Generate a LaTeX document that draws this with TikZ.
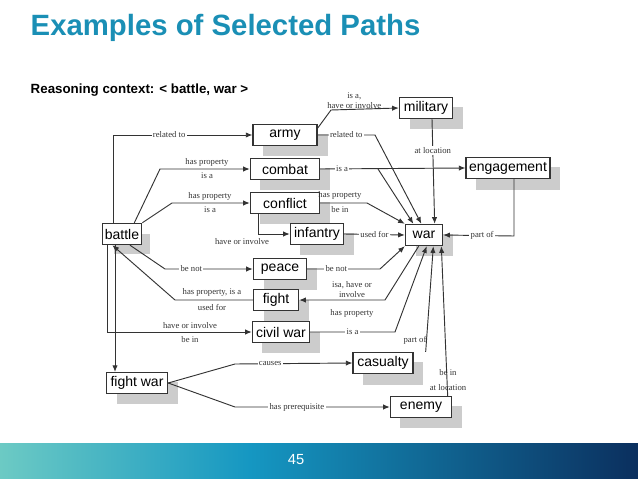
\documentclass[tikz,border=0pt]{standalone}
\usepackage{fontspec}
\setmainfont{Liberation Serif}
\newfontfamily\sansf{Liberation Sans}
\usetikzlibrary{arrows.meta}
\definecolor{ttl}{HTML}{1A8FB5}
\definecolor{ln}{HTML}{333333}
\definecolor{bA}{HTML}{6CCAC4}
\definecolor{bB}{HTML}{1597C2}
\definecolor{bC}{HTML}{0B2F5E}
\begin{document}
\begin{tikzpicture}[x=0.75pt,y=-0.75pt,
  box/.style={draw=ln,line width=0.8pt,fill=white,font=\sansf\fontsize{10.5}{11}\selectfont,inner sep=2pt,minimum height=16pt},
  shd/.style={fill=black!20,draw=none},
  lbl/.style={font=\fontsize{6.5}{7.5}\selectfont,inner sep=1pt,text=ln},
  il/.style={lbl,fill=white},
  e/.style={draw=ln,line width=0.7pt,-{Latex[length=5pt,width=4pt]}},
  p/.style={draw=ln,line width=0.7pt}]
\useasboundingbox (0,0) rectangle (638,478);
\shade[left color=bA,right color=bB] (0,443) rectangle (250,478);
\shade[left color=bB,right color=bC] (250,443) rectangle (639,478);
\node[text=white,font=\sansf\fontsize{11}{12}\selectfont] (pg) at (296,460) {45};
\node[anchor=west,text=ttl,font=\sansf\bfseries\fontsize{22}{24}\selectfont] (title) at (26,28) {Examples of Selected Paths};
\node[anchor=west,font=\sansf\bfseries\fontsize{10}{11}\selectfont] (ctx) at (26,90) {Reasoning context: < battle, war >};
% shadows
\foreach \x/\y/\w/\h in {122/234/36/20,285/135/65/22,285/169/70/22,285/203/70/22,317/234/54/22,424/235/37/22,426/108/53/22,508/168/84/23,280/269/53/22,276/300/45/21,281/332/58/21,383/363/60/23,137/383/61/22,421/407/62/22}
  \fill[shd] (\x-\w/2+10,\y-\h/2+10) rectangle (\x+\w/2+10,\y+\h/2+10);
% nodes
\node[box,minimum width=27pt] (battle) at (122,234) {battle};
\node[box,minimum width=48pt] (army) at (285,135) {army};
\node[box,minimum width=52pt] (combat) at (285,169) {combat};
\node[box,minimum width=52pt] (conflict) at (285,203) {conflict};
\node[box,minimum width=40pt] (infantry) at (317,234) {infantry};
\node[box,minimum width=28pt] (war) at (424,235) {war};
\node[box,minimum width=40pt] (military) at (426,108) {military};
\node[box,minimum width=63pt] (engagement) at (508,168) {engagement};
\node[box,minimum width=40pt] (peace) at (280,269) {peace};
\node[box,minimum width=34pt] (fight) at (276,300) {fight};
\node[box,minimum width=43pt] (civilwar) at (281,332) {civil war};
\node[box,minimum width=45pt] (casualty) at (383,363) {casualty};
\node[box,minimum width=46pt] (fightwar) at (137,383) {fight war};
\node[box,minimum width=46pt] (enemy) at (421,407) {enemy};
% coordinates
\coordinate (c1) at (160,169);
\coordinate (c2) at (172,203);
\coordinate (c3) at (165,269);
\coordinate (c4) at (175,300);
\coordinate (c5) at (380,269);
\coordinate (c6) at (385,300);
\coordinate (c7) at (375,135);
\coordinate (c8) at (378,169);
\coordinate (c9) at (367,203);
\coordinate (c10) at (395,332);
\coordinate (c11) at (331,110);
\coordinate (c12) at (235,364);
\coordinate (c13) at (235,407);
\coordinate (c14) at (514,236);
\coordinate (c15) at (115,372);
\coordinate (c16) at (115,244);
% edges
\draw[e] (battle.north west) ++(12,0) |- node[il,pos=0.7]{related to} (army.west);
\draw[e] ([xshift=-6pt]battle.north east) -- (c1) -- (combat.west);
\node[lbl] (l1) at (207,162) {has property};
\node[lbl] (l1b) at (207,176) {is a};
\draw[e] (battle.north east) -- (c2) -- (conflict.west);
\node[lbl] (l2) at (210,196) {has property};
\node[lbl] (l2b) at (210,210) {is a};
\draw[e] ([xshift=-20pt]conflict.south) |- (infantry.west);
\node[lbl] (l3) at (242,242) {have or involve};
\draw[e] ([yshift=5pt]army.east) -- (c11) -- node[lbl,above,pos=0.5,align=center,xshift=-8pt,yshift=-1pt]{is a,\\have or involve} (military.west);
\draw[e] (army.east) -- node[il,pos=0.5]{related to} (c7) -- ([xshift=-2pt]war.north);
\draw[e] (combat.east) -- node[il,pos=0.15]{is a} (engagement.west);
\draw[e] (c8) -- ([xshift=-8pt]war.north);
\draw[e] (conflict.east) -- (c9) -- (war.north west);
\node[lbl] (l4) at (340,195) {has property};
\node[lbl] (l4b) at (340,210) {be in};
\draw[e] (infantry.east) -- node[il]{used for} (war.west);
\draw[e] (military.south) ++(6,0) -- node[il,pos=0.3]{at location} ([xshift=8pt]war.north);
\draw[e] (engagement.south) ++(6,0) -- (c14) -- node[il,pos=0.45]{part of} (war.east);
\draw[e] ([xshift=6pt]battle.south) -- (c3) -- node[il,pos=0.3]{be not} (peace.west);
\draw[e] (peace.east) -- node[il,pos=0.4]{be not} (c5) -- (war.south west);
\draw[e] ([xshift=-4pt]war.south) -- (c6) -- (fight.east);
\node[lbl,align=center] (l5) at (352,290) {isa, have or\\involve};
\node[lbl] (l5b) at (352,313) {has property};
\draw[e] (fight.west) -- (c4) -- ([xshift=8pt]battle.south west);
\node[lbl] (l6) at (212,292) {has property, is a};
\node[lbl] (l6b) at (212,307) {used for};
\draw[e] ([xshift=4pt]battle.south west) |- (civilwar.west);
\node[lbl] (l7) at (190,326) {have or involve};
\draw (l7) ++(0,14) node[lbl]{be in};
\draw[e] (civilwar.east) -- node[il,pos=0.5]{is a} (c10) -- ([xshift=2pt]war.south);
\draw[e] ([xshift=32pt]casualty.north) -- ([xshift=7pt]war.south);
\node[lbl] (l8) at (415,340) {part of};
\draw[e] ([xshift=20pt]enemy.north) -- ([xshift=13pt]war.south);
\node[lbl] (l9) at (448,373) {be in};
\node[lbl] (l9b) at (448,388) {at location};
\draw[e] (c16) -- (c15);
\draw[e] (fightwar.east) -- (c12) -- node[il,pos=0.3]{causes} (casualty.west);
\draw[e] (fightwar.east) -- (c13) -- node[il,pos=0.4]{has prerequisite} (enemy.west);
\end{tikzpicture}
\end{document}
